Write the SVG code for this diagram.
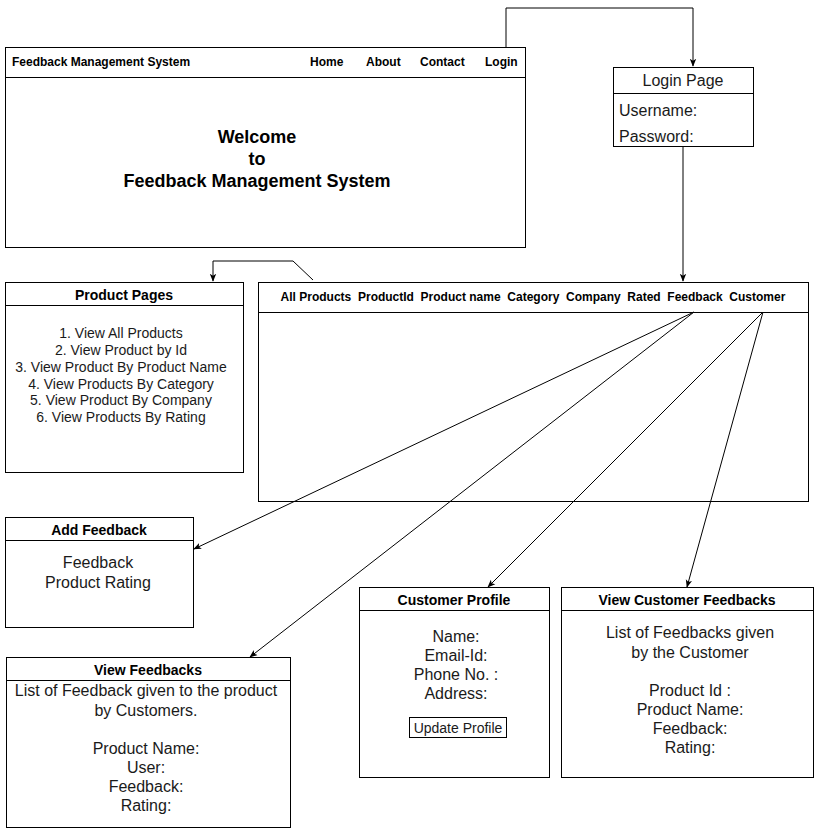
<svg xmlns="http://www.w3.org/2000/svg" width="814" height="828" viewBox="0 0 814 828">
<defs>
<marker id="arr" viewBox="0 0 10 10" refX="9" refY="5" markerWidth="8" markerHeight="8" markerUnits="userSpaceOnUse" orient="auto">
<path d="M0,1 L10,5 L0,9 L2.5,5 Z" fill="#000"/>
</marker>
</defs>
<style>
.box{fill:#fff;stroke:#000;stroke-width:1}
.ln{stroke:#000;stroke-width:1;fill:none}
.t{font-family:"Liberation Sans",Arial,sans-serif;fill:#000}
.b{font-weight:bold}
.n{font-family:"Liberation Sans",Arial,sans-serif;fill:#1a1a1a}
.c{text-anchor:middle}
.con{stroke:#000;stroke-width:1;fill:none;marker-end:url(#arr)}
</style>
<rect width="814" height="828" fill="#fff"/>

<g id="home">
<rect class="box" x="5.5" y="47.5" width="520" height="200"/>
<line class="ln" x1="5.5" y1="77.5" x2="525.5" y2="77.5"/>
<text class="t b" x="12" y="66" font-size="12">Feedback Management System</text>
<text class="t b" x="310" y="66" font-size="12">Home</text>
<text class="t b" x="366" y="66" font-size="12">About</text>
<text class="t b" x="420" y="66" font-size="12">Contact</text>
<text class="t b" x="485" y="66" font-size="12">Login</text>
<text class="t b c" x="257" y="143" font-size="18">Welcome</text>
<text class="t b c" x="257" y="165" font-size="18">to</text>
<text class="t b c" x="257" y="187" font-size="18">Feedback Management System</text>
</g>

<g id="login-page">
<rect class="box" x="613.5" y="67.5" width="140" height="79"/>
<line class="ln" x1="613.5" y1="93.5" x2="753.5" y2="93.5"/>
<text class="n c" x="683" y="86" font-size="16">Login Page</text>
<text class="n" x="619" y="116" font-size="16">Username:</text>
<text class="n" x="619" y="142" font-size="16">Password:</text>
</g>

<g id="product-pages">
<rect class="box" x="5.5" y="282.5" width="238" height="190"/>
<line class="ln" x1="5.5" y1="305.5" x2="243.5" y2="305.5"/>
<text class="t b c" x="124" y="300" font-size="14">Product Pages</text>
<text class="n c" x="121" y="338" font-size="14">1. View All Products</text>
<text class="n c" x="121" y="355" font-size="14">2. View Product by Id</text>
<text class="n c" x="121" y="372" font-size="14">3. View Product By Product Name</text>
<text class="n c" x="121" y="389" font-size="14">4. View Products By Category</text>
<text class="n c" x="121" y="405" font-size="14">5. View Product By Company</text>
<text class="n c" x="121" y="422" font-size="14">6. View Products By Rating</text>
</g>

<g id="all-products">
<rect class="box" x="258.5" y="282.5" width="550" height="219"/>
<line class="ln" x1="258.5" y1="312.5" x2="808.5" y2="312.5"/>
<text class="t b c" x="533" y="301" font-size="12" xml:space="preserve">All Products  ProductId  Product name  Category  Company  Rated  Feedback  Customer</text>
</g>

<g id="add-feedback">
<rect class="box" x="5.5" y="517.5" width="188" height="110"/>
<line class="ln" x1="5.5" y1="540.5" x2="193.5" y2="540.5"/>
<text class="t b c" x="99" y="535" font-size="14">Add Feedback</text>
<text class="n c" x="98" y="568" font-size="16">Feedback</text>
<text class="n c" x="98" y="588" font-size="16">Product Rating</text>
</g>

<g id="view-feedbacks">
<rect class="box" x="6.5" y="657.5" width="284" height="170"/>
<line class="ln" x1="6.5" y1="680.5" x2="290.5" y2="680.5"/>
<text class="t b c" x="148" y="675" font-size="14">View Feedbacks</text>
<text class="n c" x="146" y="696" font-size="16">List of Feedback given to the product</text>
<text class="n c" x="146" y="716" font-size="16">by Customers.</text>
<text class="n c" x="146" y="754" font-size="16">Product Name:</text>
<text class="n c" x="146" y="773" font-size="16">User:</text>
<text class="n c" x="146" y="792" font-size="16">Feedback:</text>
<text class="n c" x="146" y="811" font-size="16">Rating:</text>
</g>

<g id="customer-profile">
<rect class="box" x="359.5" y="587.5" width="190" height="190"/>
<line class="ln" x1="359.5" y1="610.5" x2="549.5" y2="610.5"/>
<text class="t b c" x="454" y="605" font-size="14">Customer Profile</text>
<text class="n c" x="456" y="642" font-size="16">Name:</text>
<text class="n c" x="456" y="661" font-size="16">Email-Id:</text>
<text class="n c" x="456" y="680" font-size="16">Phone No. :</text>
<text class="n c" x="456" y="699" font-size="16">Address:</text>
<rect class="box" x="409.5" y="717.5" width="97" height="20"/>
<text class="n c" x="458" y="733" font-size="14">Update Profile</text>
</g>

<g id="view-customer-feedbacks">
<rect class="box" x="561.5" y="587.5" width="252" height="190"/>
<line class="ln" x1="561.5" y1="610.5" x2="813.5" y2="610.5"/>
<text class="t b c" x="687" y="605" font-size="14">View Customer Feedbacks</text>
<text class="n c" x="690" y="638" font-size="16">List of Feedbacks given</text>
<text class="n c" x="690" y="658" font-size="16">by the Customer</text>
<text class="n c" x="690" y="696" font-size="16">Product Id :</text>
<text class="n c" x="690" y="715" font-size="16">Product Name:</text>
<text class="n c" x="690" y="734" font-size="16">Feedback:</text>
<text class="n c" x="690" y="753" font-size="16">Rating:</text>
</g>

<g id="connectors">
<path class="con" d="M506,47 L506,8 L693,8 L693,66"/>
<path class="con" d="M683,146 L683,281"/>
<path class="con" d="M313,280 L293,261 L213,261 L213,281"/>
<path class="con" d="M694,312 L194,549"/>
<path class="con" d="M694,312 L250,657"/>
<path class="con" d="M763,312 L488,587"/>
<path class="con" d="M763,312 L687,587"/>
</g>
</svg>
